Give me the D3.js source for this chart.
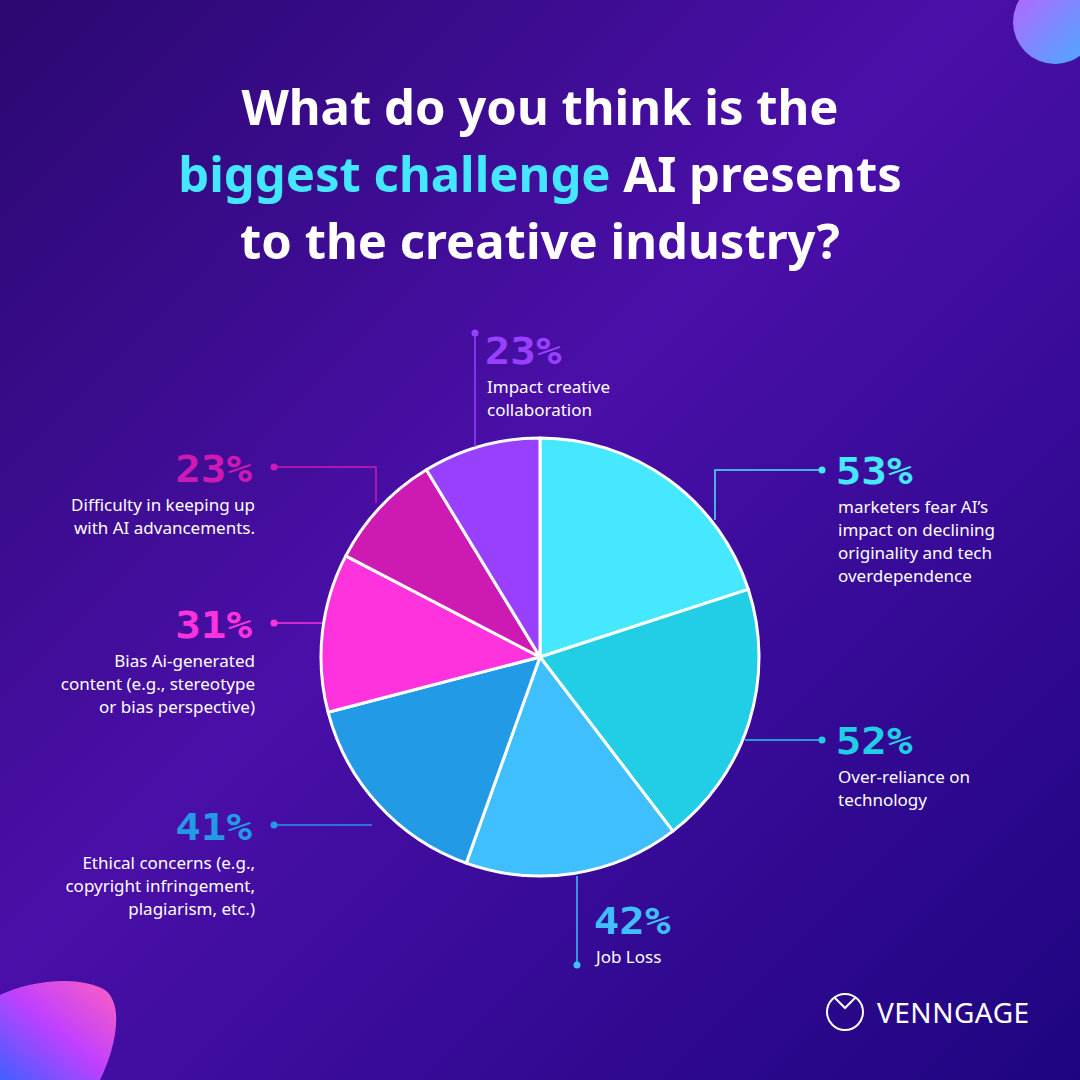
<!DOCTYPE html>
<html><head><meta charset="utf-8">
<script src="https://cdn.jsdelivr.net/npm/d3@7"></script>
<style>body{margin:0;background:#2a0a80}svg{display:block}</style>
</head><body><svg id="c" width="1080" height="1080"></svg>
<script>
const values=[53,52,42,41,31,23,23];
const pctLabels=["53%","52%","42%","41%","31%","23%","23%"];
const descriptions=[
 ["marketers fear AI’s","impact on declining","originality and tech","overdependence"],
 ["Over-reliance on","technology"],
 ["Job Loss"],
 ["Ethical concerns (e.g.,","copyright infringement,","plagiarism, etc.)"],
 ["Bias Ai-generated","content (e.g., stereotype","or bias perspective)"],
 ["Difficulty in keeping up","with AI advancements."],
 ["Impact creative","collaboration"]];
const colors=["#45E8FF","#22CDE6","#40BFFF","#229AE6","#FF33DD","#CC1AB2","#9940FF"];
const titleLines=[[["What do you think is the","#fff"]],[["biggest challenge","#45E6FF"],[" AI presents","#fff"]],[["to the creative industry?","#fff"]]];

const svg=d3.select("#c");
const defs=svg.append("defs");
const g=defs.append("linearGradient").attr("id","bg").attr("x1","0").attr("y1","0").attr("x2","1").attr("y2","1");
g.append("stop").attr("offset","0").attr("stop-color","#2a0870");
g.append("stop").attr("offset","0.45").attr("stop-color","#4a0fa8");
g.append("stop").attr("offset","1").attr("stop-color","#1e0580");
svg.append("rect").attr("width",1080).attr("height",1080).attr("fill","url(#bg)");
const b1=defs.append("linearGradient").attr("id","b1").attr("x1","0").attr("y1","0").attr("x2","1").attr("y2","1");
b1.append("stop").attr("offset","0").attr("stop-color","#c060ff");
b1.append("stop").attr("offset","1").attr("stop-color","#40b0ff");
svg.append("circle").attr("cx",1055).attr("cy",22).attr("r",42).attr("fill","url(#b1)");
const b2=defs.append("linearGradient").attr("id","b2").attr("x1","0").attr("y1","1").attr("x2","1").attr("y2","0");
b2.append("stop").attr("offset","0").attr("stop-color","#4060ff");
b2.append("stop").attr("offset","0.5").attr("stop-color","#c040ff");
b2.append("stop").attr("offset","1").attr("stop-color","#ff60c0");
svg.append("path").attr("d","M0,995 C30,980 80,975 105,990 C125,1005 115,1050 100,1080 L0,1080 Z").attr("fill","url(#b2)");

const tl=[125,192,259];
titleLines.forEach((parts,i)=>{
 const t=svg.append("text").attr("x",540).attr("y",tl[i]).attr("text-anchor","middle")
  .attr("font-family","Noto Sans").attr("font-weight","bold").attr("font-size",49);
 parts.forEach(p=>t.append("tspan").attr("fill",p[1]).text(p[0]));
});

const cx=540,cy=657,R=219;
const pie=d3.pie().sort(null).value(d=>d);
const arc=d3.arc().innerRadius(0).outerRadius(R);
const pg=svg.append("g").attr("transform",`translate(${cx},${cy})`);
pg.selectAll("path").data(pie(values)).join("path").attr("d",arc)
 .attr("fill",(d,i)=>colors[i]).attr("stroke","#fff").attr("stroke-width",3).attr("stroke-linejoin","round");

const leaders=[
 [[715,520],[715,470],[822,470]],
 [[745,740],[822,740]],
 [[577,876],[577,965]],
 [[372,825],[274,825]],
 [[322,623],[274,623]],
 [[376,503],[376,467],[274,467]],
 [[475,447],[475,333]]];
leaders.forEach((pts,i)=>{
 svg.append("path").attr("d",d3.line()(pts)).attr("fill","none").attr("stroke",colors[i]).attr("stroke-width",1.5);
 const e=pts[pts.length-1];
 svg.append("circle").attr("cx",e[0]).attr("cy",e[1]).attr("r",3.5).attr("fill",colors[i]);
});
const lab=[[838,483,"start"],[838,753,"start"],[596,933,"start"],[252,839,"end"],[252,637,"end"],[252,481,"end"],[487,363,"start"]];
lab.forEach((l,i)=>{
 svg.append("text").attr("x",l[0]+(l[2]==="end"?0:-2)).attr("y",l[1]+1).attr("text-anchor",l[2])
  .attr("font-family","DejaVu Sans Mono").attr("font-weight","bold").attr("font-size",38)
  .attr("fill",colors[i]).attr("transform",`translate(${l[0]},0) scale(1.12,1) translate(${-l[0]},0)`).text(pctLabels[i]);
 descriptions[i].forEach((s,j)=>{
  svg.append("text").attr("x",l[0]+(l[2]==="end"?3:0)).attr("y",l[1]+30+j*23).attr("text-anchor",l[2])
   .attr("font-family","Noto Sans").attr("font-size",17).attr("fill","#fff").text(s);
 });
});

svg.append("circle").attr("cx",845).attr("cy",1012).attr("r",18).attr("fill","none").attr("stroke","#fff").attr("stroke-width",2);
svg.append("path").attr("d","M834,997 L845,1008 L856,997").attr("fill","none").attr("stroke","#fff").attr("stroke-width",2);
svg.append("text").attr("x",877).attr("y",1023).attr("font-family","Noto Sans").attr("font-size",28).attr("fill","#fff").attr("letter-spacing",0.5).text("VENNGAGE");
</script></body></html>
